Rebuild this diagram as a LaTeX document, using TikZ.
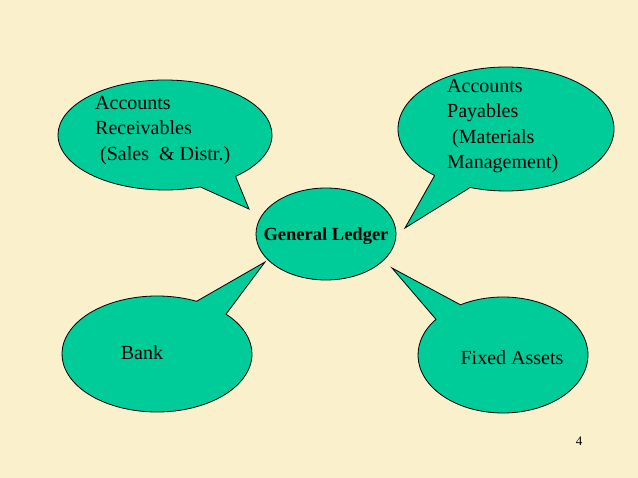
\documentclass[tikz,border=0pt]{standalone}
\usepackage{fontspec}
\setmainfont{Liberation Serif}
\usetikzlibrary{shapes.callouts,shapes.geometric}
\definecolor{bg}{RGB}{250,240,204}
\definecolor{gr}{RGB}{0,204,153}
\tikzset{
  bubble/.style={ellipse callout, draw=black, line width=0.8pt, fill=gr, inner sep=0pt, callout pointer arc=22},
  lbl/.style={font=\fontsize{20}{25.5}\selectfont, align=left, inner sep=0pt}
}
\begin{document}
\begin{tikzpicture}[x=1pt,y=-1pt]
\fill[bg] (0,0) rectangle (638,478);
\useasboundingbox (0,0) rectangle (638,478);
\node[ellipse, draw=black, line width=0.8pt, fill=gr, minimum width=140pt, minimum height=92pt, inner sep=0pt] (gl) at (326,234) {};
\node[font=\bfseries\fontsize{18.5}{22}\selectfont, inner sep=0pt] (gltext) at (326,236) {General Ledger};
\coordinate (ptl) at (249,209);
\coordinate (ptr) at (405,228);
\coordinate (pbl) at (265,262);
\coordinate (pbr) at (392,268);
\node[bubble, minimum width=214pt, minimum height=110pt, callout absolute pointer={(ptl)}] (ar) at (165,135) {};
\node[bubble, minimum width=216pt, minimum height=124pt, callout absolute pointer={(ptr)}] (ap) at (506,129) {};
\node[bubble, minimum width=190pt, minimum height=116pt, callout absolute pointer={(pbl)}] (bank) at (157,354) {};
\node[bubble, minimum width=170pt, minimum height=116pt, callout absolute pointer={(pbr)}] (fa) at (503,355) {};
\node[lbl, anchor=north west] (artext) at (95,96) {Accounts\\Receivables\\ \ (Sales\ \ \& Distr.)};
\node[lbl, anchor=north west] (aptext) at (447,79) {Accounts\\Payables\\ \ (Materials\\Management)};
\node[lbl] (banktext) at (142,353) {Bank};
\node[lbl] (fatext) at (512,358) {Fixed Assets};
\node[font=\fontsize{13}{15}\selectfont, inner sep=0pt] (pg) at (579,441) {4};
\end{tikzpicture}
\end{document}
